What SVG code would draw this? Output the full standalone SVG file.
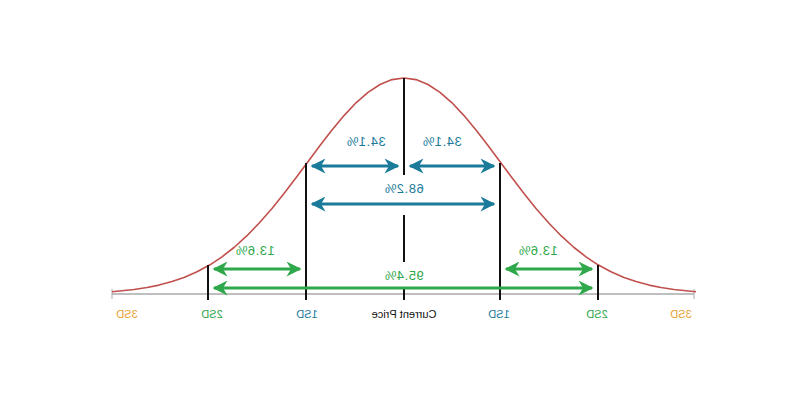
<svg xmlns="http://www.w3.org/2000/svg" width="800" height="420" viewBox="0 0 800 420">
<style>
text{font-family:"Liberation Sans",Arial,sans-serif;font-size:11px;text-anchor:middle}
.pct{font-size:13px;letter-spacing:0.5px}
.b{fill:#1a7a9a}.g{fill:#2ea84a}.o{fill:#e8a030}.k{fill:#111}
.vl{stroke:#111;stroke-width:2}
.ab{stroke:#1a7a9a;stroke-width:3;marker-start:url(#hb);marker-end:url(#hb)}
.ag{stroke:#2ea84a;stroke-width:3;marker-start:url(#hg);marker-end:url(#hg)}
</style>
<defs>
<marker id="hb" viewBox="0 0 10 10" refX="9" refY="5" markerWidth="6" markerHeight="5" orient="auto-start-reverse" markerUnits="strokeWidth"><path d="M0,0L10,5L0,10L3,5Z" fill="#1a7a9a"/></marker>
<marker id="hg" viewBox="0 0 10 10" refX="9" refY="5" markerWidth="6" markerHeight="5" orient="auto-start-reverse" markerUnits="strokeWidth"><path d="M0,0L10,5L0,10L3,5Z" fill="#2ea84a"/></marker>
</defs>
<rect width="800" height="420" fill="#fff"/>
<g id="axis">
<line x1="112" y1="294" x2="694" y2="294" stroke="#aaa" stroke-width="1.5"/>
<line x1="112" y1="289" x2="112" y2="299" stroke="#aaa"/>
<line x1="694" y1="289" x2="694" y2="299" stroke="#aaa"/>
</g>
<g id="curve">
<polyline fill="none" stroke="#c0504d" stroke-width="1.6" stroke-linejoin="round" points="112,291.7 122,290.8 134,289.5 147,287.5 159,285.1 172,281.6 184,277.5 197,271.8 210,264.8 222,256.8 234,247.5 247,235.7 259,223.3 272,208.5 284,193.5 296,177.8 307,163 320,145.5 332,130 344,115.6 356,102.8 368,92.4 380,84.5 392,79.6 404,78 416,79.6 428,84.5 440,92.4 452,102.8 464,115.6 476,130 488,145.5 501,163 512,177.8 524,193.5 536,208.5 549,223.3 561,235.7 574,247.5 586,256.8 598,264.8 611,271.8 624,277.5 636,281.6 649,285.1 661,287.5 674,289.5 686,290.8 696,291.7"/>
</g>
<g id="lines">
<line class="vl" x1="404" y1="78" x2="404" y2="175"/>
<line class="vl" x1="404" y1="215" x2="404" y2="262"/>
<line class="vl" x1="404" y1="287" x2="404" y2="300"/>
<line class="vl" x1="306" y1="163" x2="306" y2="300"/>
<line class="vl" x1="500" y1="163" x2="500" y2="300"/>
<line class="vl" x1="208" y1="265" x2="208" y2="300" stroke-width="1.5"/>
<line class="vl" x1="598" y1="265" x2="598" y2="300" stroke-width="1.5"/>
</g>
<g id="connectors">
<line class="ab" x1="312" y1="166" x2="398" y2="166"/>
<line class="ab" x1="410" y1="166" x2="494" y2="166"/>
<line class="ab" x1="312" y1="204" x2="494" y2="204"/>
<line class="ag" x1="214" y1="269" x2="300" y2="269"/>
<line class="ag" x1="506" y1="269" x2="592" y2="269"/>
<line class="ag" x1="214" y1="288" x2="592" y2="288"/>
</g>
<g id="labels">
<text class="pct b" transform="translate(366,146) scale(-1,1)">34.1%</text>
<text class="pct b" transform="translate(442,146) scale(-1,1)">34.1%</text>
<text class="pct b" transform="translate(404,193) scale(-1,1)">68.2%</text>
<text class="pct g" transform="translate(255,255) scale(-1,1)">13.6%</text>
<text class="pct g" transform="translate(538,255) scale(-1,1)">13.6%</text>
<text class="pct g" transform="translate(404,280) scale(-1,1)">95.4%</text>
<text class="o" transform="translate(127,318) scale(-1,1)">3SD</text>
<text class="g" transform="translate(212,318) scale(-1,1)">2SD</text>
<text class="b" transform="translate(307,318) scale(-1,1)">1SD</text>
<text class="k" transform="translate(404,318) scale(-1,1)">Current Price</text>
<text class="b" transform="translate(499,318) scale(-1,1)">1SD</text>
<text class="g" transform="translate(597,318) scale(-1,1)">2SD</text>
<text class="o" transform="translate(681,318) scale(-1,1)">3SD</text>
</g>
</svg>
